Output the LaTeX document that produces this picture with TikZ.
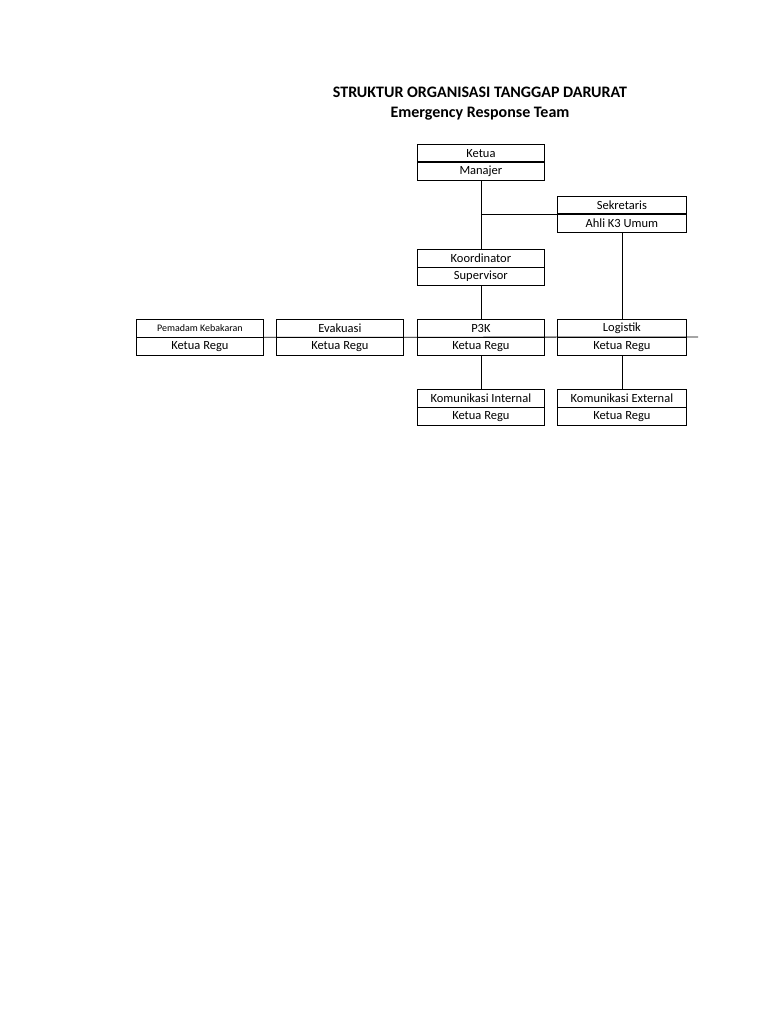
\documentclass[tikz,border=0pt]{standalone}
\usepackage{fontspec}
\setmainfont{Carlito}
\begin{document}
\begin{tikzpicture}[x=1pt,y=-1pt,
  cell/.style={draw,line width=0.8pt,minimum height=17.5pt,inner sep=0pt,font=\fontsize{12.5}{13}\selectfont,anchor=north west},
  ln/.style={line width=0.8pt}]
\useasboundingbox (0,0) rectangle (768,1024);
\node[font=\bfseries\fontsize{16}{18}\selectfont] (t1) at (480,92) {STRUKTUR ORGANISASI TANGGAP DARURAT};
\node[font=\bfseries\fontsize{16}{18}\selectfont] (t2) at (480,114) {Emergency Response Team};
\newcommand{\obox}[6][]{%
  \node[cell,minimum width=#4pt,#1] (#2a) at (#3) {#5};
  \node[cell,minimum width=#4pt] (#2b) at (#2a.south west) {#6};}
\obox{k}{417,144}{127}{Ketua}{Manajer}
\obox{s}{557,196}{129}{Sekretaris}{Ahli K3 Umum}
\obox{c}{417,249}{127}{Koordinator}{Supervisor}
\obox[font=\fontsize{10}{11}\selectfont]{p}{136,319}{127}{Pemadam Kebakaran}{Ketua Regu}
\obox{e}{276,319}{127}{Evakuasi}{Ketua Regu}
\obox{h}{417,319}{127}{P3K}{Ketua Regu}
\obox{l}{557,319}{129}{Logistik}{Ketua Regu}
\obox{i}{417,389}{127}{Komunikasi Internal}{Ketua Regu}
\obox{x}{557,389}{129}{Komunikasi External}{Ketua Regu}
\coordinate (end) at (698,337);
\draw[ln] (kb.south) -- (ca.north);
\draw[ln] (kb.south |- sa.south west) -- (sa.south west);
\draw[ln] (cb.south) -- (ha.north);
\draw[ln] (sb.south) -- (la.north);
\draw[ln] (pa.south east) -- (end);
\draw[ln] (hb.south) -- (ia.north);
\draw[ln] (lb.south) -- (xa.north);
\end{tikzpicture}
\end{document}
